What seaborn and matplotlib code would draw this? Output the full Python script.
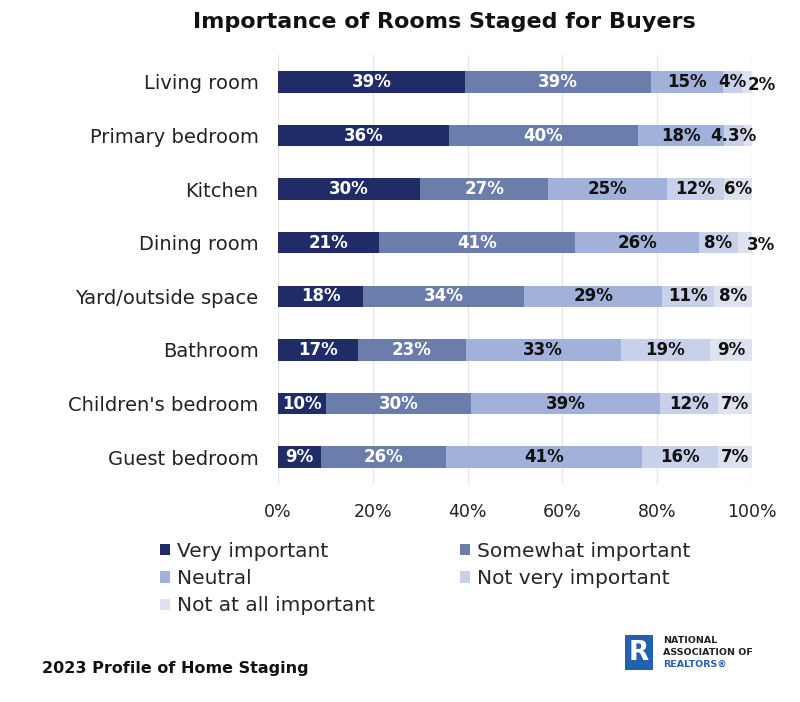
import numpy as np
import pandas as pd
import matplotlib.pyplot as plt
import seaborn as sns
from matplotlib.patches import Rectangle, Patch


# ==========================================
# DATA
# ==========================================
rooms = [
    "Living room",
    "Primary bedroom",
    "Kitchen",
    "Dining room",
    "Yard/outside space",
    "Bathroom",
    "Children's bedroom",
    "Guest bedroom",
]

levels = [
    "Very important",
    "Somewhat important",
    "Neutral",
    "Not very important",
    "Not at all important",
]

very_important = [39, 36, 30, 21, 18, 17, 10, 9]
somewhat_important = [39, 40, 27, 41, 34, 23, 30, 26]
neutral = [15, 18, 25, 26, 29, 33, 39, 41]
not_very_important = [4, 4.3, 12, 8, 11, 19, 12, 16]
not_at_all_important = [2, 1.7, 6, 3, 8, 9, 7, 7]

# label text shown on each segment (None = no label)
label_text = [
    ["39%", "36%", "30%", "21%", "18%", "17%", "10%", "9%"],
    ["39%", "40%", "27%", "41%", "34%", "23%", "30%", "26%"],
    ["15%", "18%", "25%", "26%", "29%", "33%", "39%", "41%"],
    ["4%", "4.3%", "12%", "8%", "11%", "19%", "12%", "16%"],
    ["2%", None, "6%", "3%", "8%", "9%", "7%", "7%"],
]

colors = ["#1f2c68", "#6b7dab", "#a2b1d9", "#c9d1ea", "#dee1ee"]
label_colors = ["white", "white", "#111111", "#111111", "#111111"]

FONT = ["DejaVu Sans"]


# ==========================================
# BUILD TABLE (100% stacked)
# ==========================================
df = pd.DataFrame({
    "Room": rooms,
    levels[0]: very_important,
    levels[1]: somewhat_important,
    levels[2]: neutral,
    levels[3]: not_very_important,
    levels[4]: not_at_all_important,
})

total = df[levels].sum(axis=1)
share = df[levels].div(total, axis=0) * 100
cum = share.cumsum(axis=1)


# ==========================================
# PLOT
# ==========================================
sns.set_style("white")
plt.rcParams["font.family"] = FONT

fig = plt.figure(figsize=(8, 7.02), dpi=100)
ax = fig.add_axes([0.3475, 0.3105, 0.5925, 0.611])

# stacked bars: draw cumulative totals from the longest down
for i in range(len(levels) - 1, -1, -1):
    sns.barplot(
        x=cum[levels[i]],
        y=df["Room"],
        orient="h",
        color=colors[i],
        saturation=1,
        width=0.40,
        linewidth=0,
        ax=ax,
        zorder=3,
    )

# segment labels
for i, level in enumerate(levels):
    for j in range(len(rooms)):
        txt = label_text[i][j]
        if txt is None:
            continue
        val = share[level].iloc[j]
        right = cum[level].iloc[j]
        x = right - val / 2
        y = j
        if val <= 3.5:
            x = right + 2.0
            y = j + 0.05
        ax.text(
            x, y, txt,
            ha="center", va="center",
            color=label_colors[i],
            fontsize=12, fontweight="bold",
            zorder=5,
        )

ax.set_xlim(0, 100)
ax.set_ylim(7.5, -0.5)
ax.set_xticks(np.arange(0, 101, 20))
ax.set_xticklabels([f"{t}%" for t in range(0, 101, 20)])
ax.tick_params(axis="x", labelsize=12.5, colors="#222222", pad=14, length=0)
ax.tick_params(axis="y", labelsize=14, colors="#222222", pad=14, length=0)
ax.set_xlabel("")
ax.set_ylabel("")

ax.grid(axis="x", color="#e6e6e6", linewidth=1, zorder=0)
for side in ["top", "right", "bottom", "left"]:
    ax.spines[side].set_visible(False)

# title
fig.text(
    0.556, 0.969,
    "Importance of Rooms Staged for Buyers",
    ha="center", va="center",
    fontsize=16, fontweight="bold", color="#111111",
)

# legend (row-wise order in two columns)
handles = [Patch(facecolor=c, edgecolor="none") for c in colors]
order = [0, 2, 4, 1, 3]
fig.legend(
    [handles[k] for k in order],
    [levels[k] for k in order],
    loc="upper left",
    bbox_to_anchor=(0.19, 0.24),
    ncol=2,
    frameon=False,
    fontsize=14.5,
    handlelength=0.5,
    handleheight=0.5,
    handletextpad=0.35,
    columnspacing=4.2,
    labelspacing=0.42,
    borderaxespad=0,
)

# footer
fig.text(
    0.052, 0.048,
    "2023 Profile of Home Staging",
    ha="left", va="center",
    fontsize=11.5, fontweight="bold", color="#111111",
)

# NAR logo
logo_ax = fig.add_axes([0.781, 0.0456, 0.035, 0.05])
logo_ax.add_patch(Rectangle((0, 0), 1, 1, color="#2360ad"))
logo_ax.text(0.5, 0.47, "R", ha="center", va="center",
             color="white", fontsize=19, fontweight="bold")
logo_ax.set_xlim(0, 1)
logo_ax.set_ylim(0, 1)
logo_ax.axis("off")

fig.text(0.829, 0.087, "NATIONAL", fontsize=6.8, fontweight="bold",
         color="#222222", va="center")
fig.text(0.829, 0.070, "ASSOCIATION OF", fontsize=6.8, fontweight="bold",
         color="#222222", va="center")
fig.text(0.829, 0.053, "REALTORS®", fontsize=6.8, fontweight="bold",
         color="#2360ad", va="center")

plt.savefig("out.png", dpi=100)
